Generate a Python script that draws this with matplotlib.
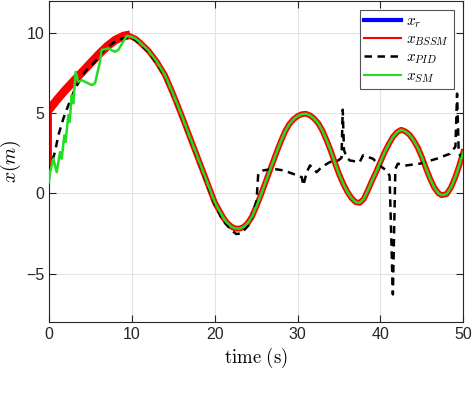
import matplotlib
matplotlib.use("Agg")
import matplotlib.pyplot as plt
from matplotlib.lines import Line2D

plt.rcParams['mathtext.fontset'] = 'cm'
plt.rcParams['font.family'] = ['Liberation Sans', 'DejaVu Sans']

# reference trajectory x_r
t_ref = [0, 1, 2, 3, 4, 5, 6, 7, 8, 9, 9.8, 10.5, 11, 12, 13, 14, 15, 16, 17, 18, 19,
         20, 21, 21.5, 22, 22.5, 23, 23.5, 24, 24.5, 25, 25.5, 26, 26.5, 27, 27.5, 28, 28.5,
         29, 29.5, 30, 30.5, 31, 31.5, 32, 32.5, 33, 33.5, 34, 34.5, 35, 35.5, 36, 36.5,
         37, 37.5, 38, 38.5, 39, 39.5, 40, 40.5, 41, 41.5, 42, 42.5, 43, 43.5, 44, 44.5,
         45, 45.5, 46, 46.5, 47, 47.4, 48, 48.5, 49, 49.5, 50]
x_ref = [5.1, 5.75, 6.35, 6.9, 7.45, 8.0, 8.55, 9.05, 9.45, 9.7, 9.78, 9.6, 9.38, 8.88, 8.2, 7.35, 6.15, 4.85, 3.5, 2.15, 0.8,
         -0.56, -1.5, -1.85, -2.08, -2.2, -2.2, -2.1, -1.85, -1.45, -0.85, -0.2, 0.5, 1.2, 1.9, 2.6, 3.25, 3.85,
         4.3, 4.6, 4.8, 4.92, 4.95, 4.85, 4.65, 4.35, 3.9, 3.3, 2.65, 1.9, 1.2, 0.6, 0.1, -0.3,
         -0.55, -0.6, -0.35, 0.2, 0.8, 1.35, 1.95, 2.55, 3.05, 3.5, 3.8, 3.95, 3.85, 3.65, 3.3, 2.85,
         2.25, 1.55, 0.9, 0.35, 0.0, -0.12, -0.05, 0.35, 0.95, 1.7, 2.56]

# BSSM: initial value before it joins the reference
t_bssm_start = [0.0]
x_bssm_start = [1.8]

# PID response
t_pid = [0, 0.3, 0.72, 1.12, 1.73, 2.33, 3.14, 4.34, 5.55, 6.76, 7.96, 8.96, 10, 11, 12, 13, 14, 15, 16,
         17, 18, 19, 20, 21, 22, 22.6, 23.2, 24.25, 25.05, 25.25, 25.85, 27.06, 28.3, 29.5, 30.5,
         30.7, 31.1, 31.5, 32.3, 32.9, 33.9, 34.9, 35.3, 35.45, 35.6, 35.9, 36.3, 37.5, 37.9,
         39.1, 39.9, 40.7, 41.1, 41.5, 41.8, 42.1, 43.1, 44.75, 46.8, 48.4, 49.05, 49.25,
         49.45, 49.7, 50]
x_pid = [1.3, 1.9, 2.56, 3.6, 4.65, 5.48, 6.52, 7.56, 8.19, 9.0, 9.44, 9.65, 9.7, 9.3, 8.8, 8.1, 7.3, 6.1, 4.8,
         3.45, 2.1, 0.7, -0.7, -1.7, -2.3, -2.54, -2.5, -1.9, -0.46, 1.2, 1.42, 1.52, 1.42, 1.2, 1.0,
         0.48, 1.31, 1.73, 1.31, 1.63, 1.94, 2.04, 2.2, 5.2, 2.7, 2.25, 2.04, 1.94, 2.36,
         2.15, 1.73, 1.42, 1.1, -6.3, 1.5, 1.84, 1.73, 1.84, 2.15, 2.46, 2.9, 6.2,
         2.5, 2.3, 2.5]

# SM response (chattering start, then tracks the reference)
t_sm = [0, 0.12, 0.52, 0.93, 1.33, 1.53, 1.85, 2.0, 2.33, 2.5, 2.73, 2.93, 3.22, 3.54, 3.94,
        4.74, 5.15, 5.55, 6.15, 6.36, 7.16, 7.96, 8.36, 9.37, 9.97]
x_sm = [0.69, 1.3, 2.15, 1.31, 2.56, 2.15, 3.6, 3.2, 4.86, 4.44, 6.1, 5.6, 7.56, 6.94, 7.04,
        6.84, 6.73, 6.84, 8.19, 8.92, 9.02, 8.81, 8.92, 9.8, 9.75]

labels = [r'$x_r$', r'$x_{BSSM}$', r'$x_{PID}$', r'$x_{SM}$']
xticks = [0, 10, 20, 30, 40, 50]
yticks = [-5, 0, 5, 10]

fig = plt.figure(figsize=(4.74, 3.98), dpi=100)
ax = fig.add_axes([0.1034, 0.1917, 0.874, 0.807])

# BSSM (red)
t_b = t_bssm_start + t_ref
x_b = x_bssm_start + x_ref
ax.plot(t_b, x_b, color='red', lw=4.2, zorder=2, solid_joinstyle='round')
early = [i for i, tt in enumerate(t_ref) if tt <= 9.8]
ax.plot([t_ref[i] for i in early], [x_ref[i] + 0.1 for i in early], color='red', lw=6.0, zorder=2,
        solid_joinstyle='round', solid_capstyle='butt')
# reference (blue)
ax.plot(t_ref, x_ref, color='blue', lw=2.4, zorder=1, solid_joinstyle='round')
# PID (black dashed)
ax.plot(t_pid, x_pid, color='black', lw=1.8, ls=(0, (3, 2.2)), zorder=3)
# SM (green) on top, following reference after transient
t_g = t_sm + [tt for tt in t_ref if tt > t_sm[-1]]
x_g = x_sm + [x_ref[i] for i, tt in enumerate(t_ref) if tt > t_sm[-1]]
ax.plot(t_g, x_g, color='#22dd22', lw=1.8, zorder=4, solid_joinstyle='round')

ax.set_xlim(0, 50)
ax.set_ylim(-8, 12)
ax.set_xticks(xticks)
ax.set_yticks(yticks)
ax.grid(True, color='#e3e3e3', lw=0.8)
ax.set_axisbelow(True)
ax.tick_params(direction='in', length=5, top=True, right=True, labelsize=11.5,
               colors='#262626', width=0.8)
for s in ax.spines.values():
    s.set_color('#262626')
    s.set_linewidth(0.8)

ax.set_xlabel(r'$\mathrm{time\ (s)}$', fontsize=13.5, labelpad=3)
ax.set_ylabel(r'$x(m)$', fontsize=14, labelpad=2)

handles = [Line2D([], [], color='blue', lw=3),
           Line2D([], [], color='red', lw=1.5),
           Line2D([], [], color='black', lw=1.8, ls=(0, (3, 2.2))),
           Line2D([], [], color='#22dd22', lw=1.5)]
leg = ax.legend(handles, labels, loc='upper right', bbox_to_anchor=(0.9775, 0.972),
                fontsize=11, fancybox=False, framealpha=1, edgecolor='#555555',
                handlelength=2.4, handletextpad=0.35, borderpad=0.3, labelspacing=0.18,
                borderaxespad=0)
leg.get_frame().set_linewidth(0.8)

fig.savefig('out.png', dpi=100)
